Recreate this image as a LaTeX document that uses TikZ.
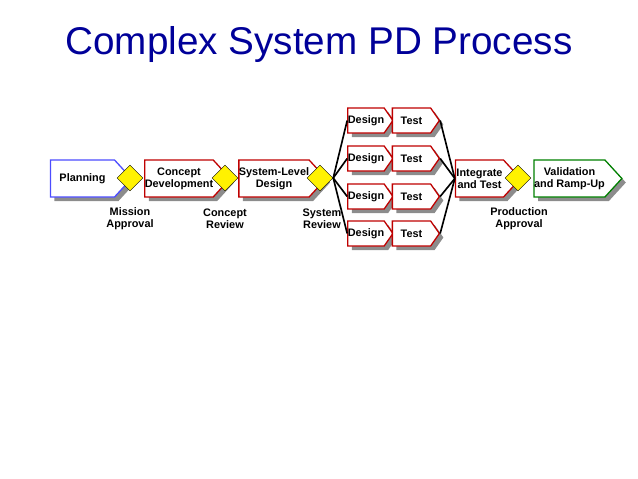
\documentclass[tikz,border=0pt]{standalone}
\usepackage{fontspec}
\setmainfont{Liberation Sans}
\usetikzlibrary{shapes.symbols,shapes.geometric,shadows}

\begin{document}
\begin{tikzpicture}[
    x=0.03cm, y=-0.03cm,
    stage/.style={signal, signal to=east, signal pointer angle=95, draw=red!75!black, line width=1.1pt, fill=white,
        inner sep=0pt, align=center, font=\fontsize{9.3}{10.5}\selectfont\bfseries, minimum height=1.11cm,
        drop shadow={shadow xshift=0.12cm, shadow yshift=-0.12cm, fill=black!45, draw=none, opacity=1}},
    small/.style={stage, signal pointer angle=110, minimum height=0.75cm},
    gate/.style={diamond, draw=black, fill=yellow, inner sep=0pt, minimum size=0.78cm},
    note/.style={align=center, font=\fontsize{9.3}{10.5}\selectfont\bfseries},
    link/.style={line width=1.4pt}
]
    \useasboundingbox (0,0) rectangle (638,479);
    \node[text=blue!60!black, font=\fontsize{33}{38}\selectfont] (title) at (319,45) {Complex System PD Process};

    % Main stages
    \node[stage, draw=blue!70, minimum width=2.43cm] (plan) at (82.5,178.5) {Planning};
    \node[stage, minimum width=2.4cm] (concept) at (179,178.5) {Concept\\Development};
    \node[stage, minimum width=2.4cm] (system) at (274,178.5) {System-Level\\Design};
    \node[stage, minimum width=1.95cm] (integ) at (479.5,178.5) {Integrate\\and Test};
    \node[stage, draw=green!50!black, minimum width=2.55cm] (valid) at (569.5,178.5) {Validation\\and Ramp-Up};

    % Parallel design and test
    \foreach \i/\y in {1/120.5, 2/158.5, 3/196.5, 4/233.5} {
        \node[small, minimum width=1.26cm] (design\i) at (366,\y) {Design};
        \node[small, minimum width=1.41cm] (test\i) at (411.5,\y) {Test};
    }

    % Gates
    \node[gate] (mission) at (130,178) {};
    \node[gate] (review) at (225,178) {};
    \node[gate] (sysrev) at (320,178) {};
    \node[gate] (prod) at (518,178) {};

    % Links
    \foreach \i in {1,...,4} {
        \draw[link] (sysrev.east) -- (design\i.west);
        \draw[link] (test\i.east) -- (integ.west);
    }

    % Labels
    \node[note] (mlab) at (130,219) {Mission\\Approval};
    \node[note] (clab) at (225,219) {Concept\\Review};
    \node[note] (slab) at (322,219) {System\\Review};
    \node[note] (plab) at (519,219) {Production\\Approval};
\end{tikzpicture}
\end{document}
